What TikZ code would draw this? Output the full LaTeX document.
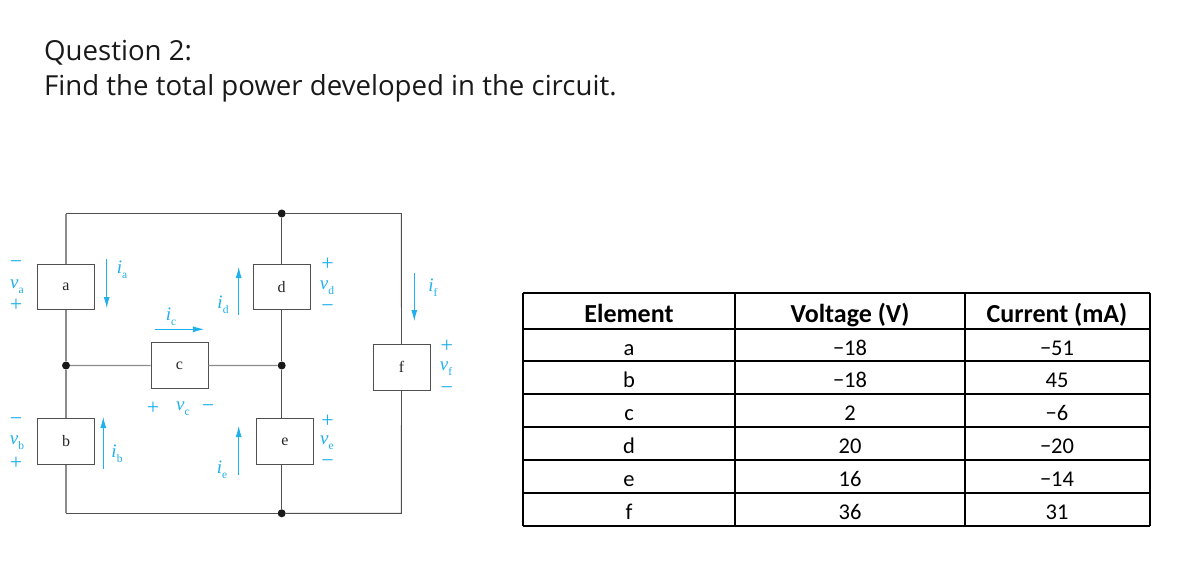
\documentclass[tikz,border=0pt]{standalone}
\usepackage{fontspec}
\setmainfont{Liberation Serif}
\newfontfamily\headfont{Open Sans}
\newfontfamily\tabfont{Carlito}
\definecolor{cy}{HTML}{1FB0EE}
\definecolor{wire}{HTML}{505050}
\definecolor{wireg}{HTML}{8C8C8C}
\usetikzlibrary{arrows.meta}
\tikzset{
  x=1pt,y=-1pt,
  wireline/.style={draw=wire,line width=0.9pt},
  graywire/.style={draw=wireg,line width=1.2pt},
  elem/.style={draw=wire,line width=0.9pt,fill=white,inner sep=0pt,font=\fontsize{16}{17}\selectfont,text=black!85},
  junc/.style={circle,fill=black!90,inner sep=0pt,minimum size=8pt},
  curr/.style={draw=cy,line width=0.8pt,-{Latex[length=11pt,width=6pt]}},
  lab/.style={text=cy,inner sep=0pt,font=\fontsize{19}{20}\selectfont},
  sign/.style={text=cy,inner sep=0pt,font=\fontsize{22}{22}\selectfont},
  head/.style={anchor=base west,inner sep=0pt,font=\headfont\fontsize{27.6}{30}\selectfont,text=black!90},
  cell/.style={anchor=base,inner sep=0pt,font=\tabfont\fontsize{22.5}{24}\selectfont,text=black},
  hcell/.style={cell,font=\tabfont\bfseries\fontsize{26}{28}\selectfont},
  grid/.style={draw=black,line width=1.5pt}
}
\newcommand{\lv}[1]{\textit{v}\raisebox{-5pt}{\fontsize{11.5}{12}\selectfont #1}}
\newcommand{\li}[1]{\textit{i}\raisebox{-5pt}{\fontsize{11.5}{12}\selectfont #1}}
\begin{document}
\begin{tikzpicture}
\useasboundingbox (0,0) rectangle (1177,580);
\fill[white] (0,0) rectangle (1177,580);
% heading
\node[head] (q1) at (44,61) {Question 2:};
\node[head] (q2) at (44,96) {Find the total power developed in the circuit.};
% circuit anchors
\node[junc] (jt) at (281.7,213.5) {};
\node[junc] (jl) at (66,365.5) {};
\node[junc] (jc) at (281.7,365.5) {};
\node[junc] (jb) at (281.7,513.3) {};
\coordinate (ctl) at (66,213.5);
\coordinate (ctr) at (401.3,213.5);
\coordinate (cbl) at (66,513.3);
\coordinate (cbr) at (401.3,513.3);
\node[elem,minimum width=57pt,minimum height=45pt] (a) at (66,286.8) {a};
\node[elem,minimum width=57pt,minimum height=45.6pt] (b) at (66,441.5) {b};
\node[elem,minimum width=57pt,minimum height=45.3pt] (c) at (179.5,365.4) {c};
\node[elem,minimum width=57.3pt,minimum height=45pt] (d) at (281.7,286.8) {d};
\node[elem,minimum width=57pt,minimum height=45.6pt] (e) at (284.8,441.5) {e};
\node[elem,minimum width=57pt,minimum height=46pt] (f) at (401.5,367.3) {f};
% wires
\draw[graywire] (ctl) -- (a.north);
\draw[graywire] (a.south) -- (jl);
\draw[graywire] (jl) -- (b.north);
\draw[graywire] (b.south) -- (cbl);
\draw[wireline] (ctl) -- (jt);
\draw[wireline] (jt) -- (ctr) -- (f.north);
\draw[wireline] (jt) -- (d.north);
\draw[wireline] (d.south) -- (jc);
\draw[wireline] (jc) -- (e.north -| jc);
\draw[wireline] (e.south -| jc) -- (jb);
\draw[wireline] (cbl) -- (jb);
\draw[wireline] (jb) -- (cbr) -- (f.south);
\draw[graywire] (jl) -- (c.west);
\draw[graywire] (c.east) -- (jc);
% current arrows
\coordinate (ia1) at (106.7,259); \coordinate (ia2) at (106.7,308);
\coordinate (ib1) at (103.3,468.7); \coordinate (ib2) at (103.3,417);
\coordinate (ic1) at (154.7,329.3); \coordinate (ic2) at (204,329.3);
\coordinate (id1) at (238.7,315); \coordinate (id2) at (238.7,267);
\coordinate (ie1) at (238.7,474.7); \coordinate (ie2) at (238.7,426);
\coordinate (if1) at (414.3,273); \coordinate (if2) at (414.3,321);
\draw[curr] (ia1) -- (ia2);
\draw[curr] (ib1) -- (ib2);
\draw[curr] (ic1) -- (ic2);
\draw[curr] (id1) -- (id2);
\draw[curr] (ie1) -- (ie2);
\draw[curr] (if1) -- (if2);
% current labels
\node[lab] (lia) at (122,270) {\li{a}};
\node[lab] (lib) at (117,454) {\li{b}};
\node[lab] (lic) at (171,317) {\li{c}};
\node[lab] (lid) at (223,305) {\li{d}};
\node[lab] (lie) at (222,470) {\li{e}};
\node[lab] (lif) at (433,288) {\li{f}};
% voltage labels
\node[sign] (pa) at (16,305.5) {+};
\node[sign] (ma) at (16,264.5) {−};
\node[lab] (lva) at (17,287) {\lv{a}};
\node[sign] (pb) at (16,463) {+};
\node[sign] (mb) at (16,422) {−};
\node[lab] (lvb) at (17,443) {\lv{b}};
\node[sign] (pc) at (153,408.5) {+};
\node[sign] (mc) at (208,408.5) {−};
\node[lab] (lvc) at (183,409) {\lv{c}};
\node[sign] (pd) at (327.5,264) {+};
\node[sign] (md) at (327.5,309) {−};
\node[lab] (lvd) at (327,288) {\lv{d}};
\node[sign] (pe) at (327.5,421) {+};
\node[sign] (me) at (327.5,464) {−};
\node[lab] (lve) at (327,443) {\lv{e}};
\node[sign] (pf) at (446.7,346.5) {+};
\node[sign] (mf) at (446.7,391) {−};
\node[lab] (lvf) at (446,369) {\lv{f}};
% table
\foreach \yy in {293,329,361,394,427,460,493,526} \draw[grid] (523,\yy) -- (1150,\yy);
\foreach \xx in {523,735,965,1150} \draw[grid] (\xx,293) -- (\xx,526);
\node[hcell] (h1) at (629,322) {Element};
\node[hcell] (h2) at (850,322) {Voltage (V)};
\node[hcell] (h3) at (1057,322) {Current (mA)};
\node[cell] (r1a) at (629,355) {a};
\node[cell] (r1b) at (850,355) {−18};
\node[cell] (r1c) at (1057,355) {−51};
\node[cell] (r2a) at (629,387) {b};
\node[cell] (r2b) at (850,387) {−18};
\node[cell] (r2c) at (1057,387) {45};
\node[cell] (r3a) at (629,420) {c};
\node[cell] (r3b) at (850,420) {2};
\node[cell] (r3c) at (1057,420) {−6};
\node[cell] (r4a) at (629,453) {d};
\node[cell] (r4b) at (850,453) {20};
\node[cell] (r4c) at (1057,453) {−20};
\node[cell] (r5a) at (629,486) {e};
\node[cell] (r5b) at (850,486) {16};
\node[cell] (r5c) at (1057,486) {−14};
\node[cell] (r6a) at (629,519) {f};
\node[cell] (r6b) at (850,519) {36};
\node[cell] (r6c) at (1057,519) {31};
\end{tikzpicture}
\end{document}
